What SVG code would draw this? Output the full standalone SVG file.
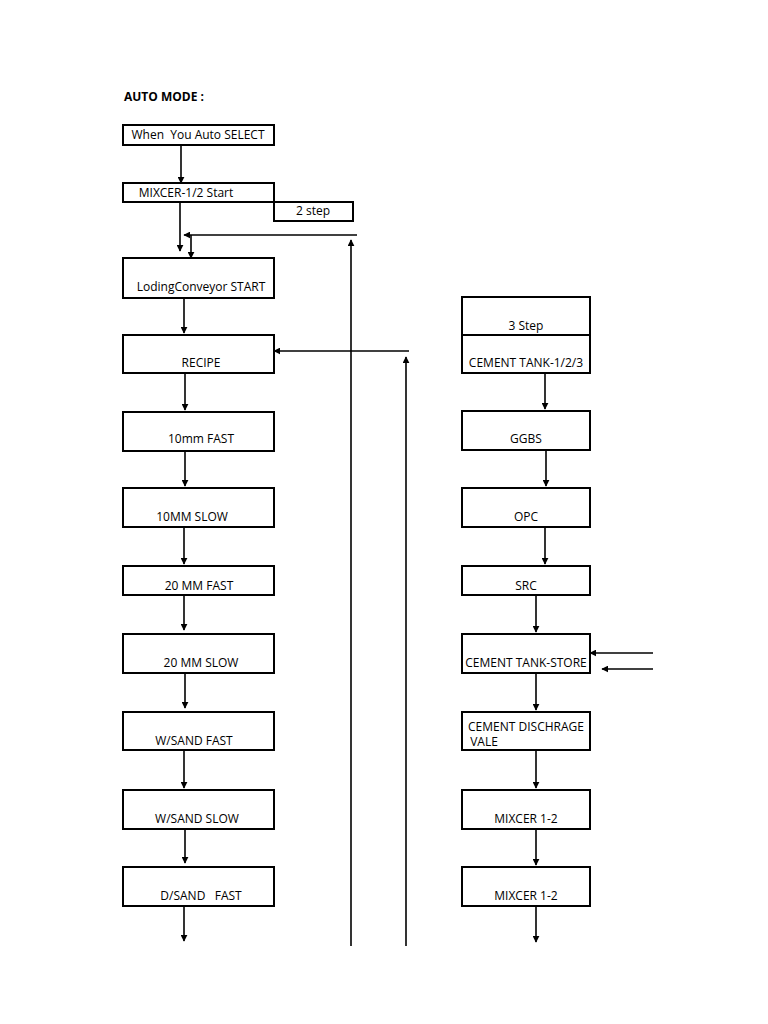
<svg xmlns="http://www.w3.org/2000/svg" width="768" height="1024" viewBox="0 0 768 1024">
<style>
rect{fill:#fff;stroke:#000;stroke-width:2}
text{font-family:"Open Sans","Liberation Sans",sans-serif;font-size:12px;fill:#000;text-anchor:middle}
.c line{stroke:#000;stroke-width:1.6}
.a{marker-end:url(#ah)}
</style>
<defs><marker id="ah" viewBox="0 0 10 10" refX="9" refY="5" markerWidth="7" markerHeight="7" markerUnits="userSpaceOnUse" orient="auto"><path d="M0,0L10,5L0,10z" fill="#000"/></marker></defs>
<rect width="768" height="1024" style="stroke:none"/>
<text x="124" y="101" style="text-anchor:start;font-weight:bold">AUTO MODE :</text>
<g id="n1"><rect x="123" y="125" width="151" height="20"/><text x="198" y="139" xml:space="preserve">When  You Auto SELECT</text></g>
<g id="n2"><rect x="123" y="183" width="151" height="19"/><text x="186" y="197">MIXCER-1/2 Start</text></g>
<g id="n3"><rect x="274" y="202" width="79" height="19"/><text x="313" y="215">2 step</text></g>
<g id="n4"><rect x="123" y="258" width="151" height="40"/><text x="201" y="291">LodingConveyor START</text></g>
<g id="n5"><rect x="123" y="335" width="151" height="38"/><text x="201" y="367">RECIPE</text></g>
<g id="n6"><rect x="123" y="412" width="151" height="39"/><text x="201" y="443">10mm FAST</text></g>
<g id="n7"><rect x="123" y="488" width="151" height="39"/><text x="192" y="521">10MM SLOW</text></g>
<g id="n8"><rect x="123" y="566" width="151" height="29"/><text x="199" y="590">20 MM FAST</text></g>
<g id="n9"><rect x="123" y="634" width="151" height="39"/><text x="201" y="667">20 MM SLOW</text></g>
<g id="n10"><rect x="123" y="712" width="151" height="38"/><text x="194" y="745">W/SAND FAST</text></g>
<g id="n11"><rect x="123" y="790" width="151" height="39"/><text x="197" y="823">W/SAND SLOW</text></g>
<g id="n12"><rect x="123" y="867" width="151" height="39"/><text x="201" y="900" xml:space="preserve">D/SAND   FAST</text></g>
<g id="r1"><rect x="462" y="297" width="128" height="38"/><text x="526" y="330">3 Step</text></g>
<g id="r2"><rect x="462" y="335" width="128" height="38"/><text x="526" y="367">CEMENT TANK-1/2/3</text></g>
<g id="r3"><rect x="462" y="411" width="128" height="39"/><text x="526" y="443">GGBS</text></g>
<g id="r4"><rect x="462" y="488" width="128" height="39"/><text x="526" y="521">OPC</text></g>
<g id="r5"><rect x="462" y="566" width="128" height="29"/><text x="526" y="590">SRC</text></g>
<g id="r6"><rect x="462" y="634" width="128" height="39"/><text x="526" y="667">CEMENT TANK-STORE</text></g>
<g id="r7"><rect x="462" y="712" width="128" height="38"/><text x="526" y="731">CEMENT DISCHRAGE</text><text x="484" y="746">VALE</text></g>
<g id="r8"><rect x="462" y="790" width="128" height="39"/><text x="526" y="823">MIXCER 1-2</text></g>
<g id="r9"><rect x="462" y="867" width="128" height="39"/><text x="526" y="900">MIXCER 1-2</text></g>
<g class="c" id="connectors">
<line class="a" x1="181" y1="145" x2="181" y2="183"/>
<line class="a" x1="180" y1="202" x2="180" y2="251"/>
<line class="a" x1="357" y1="235" x2="184" y2="235"/>
<line class="a" x1="191" y1="235" x2="191" y2="258"/>
<line class="a" x1="184" y1="298" x2="184" y2="333"/>
<line class="a" x1="185" y1="373" x2="185" y2="410"/>
<line class="a" x1="185" y1="451" x2="185" y2="486"/>
<line class="a" x1="184" y1="527" x2="184" y2="564"/>
<line class="a" x1="184" y1="595" x2="184" y2="630"/>
<line class="a" x1="185" y1="673" x2="185" y2="708"/>
<line class="a" x1="184" y1="750" x2="184" y2="788"/>
<line class="a" x1="185" y1="829" x2="185" y2="863"/>
<line class="a" x1="184" y1="906" x2="184" y2="941"/>
<line class="a" x1="351" y1="946" x2="351" y2="240"/>
<line class="a" x1="406" y1="946" x2="406" y2="357"/>
<line class="a" x1="409" y1="351" x2="274" y2="351"/>
<line class="a" x1="545" y1="373" x2="545" y2="409"/>
<line class="a" x1="546" y1="450" x2="546" y2="486"/>
<line class="a" x1="545" y1="527" x2="545" y2="564"/>
<line class="a" x1="536" y1="595" x2="536" y2="632"/>
<line class="a" x1="536" y1="673" x2="536" y2="710"/>
<line class="a" x1="536" y1="750" x2="536" y2="788"/>
<line class="a" x1="536" y1="829" x2="536" y2="865"/>
<line class="a" x1="536" y1="906" x2="536" y2="942"/>
<line class="a" x1="653" y1="653" x2="590" y2="653"/>
<line class="a" x1="653" y1="669" x2="602" y2="669"/>
</g>
</svg>
